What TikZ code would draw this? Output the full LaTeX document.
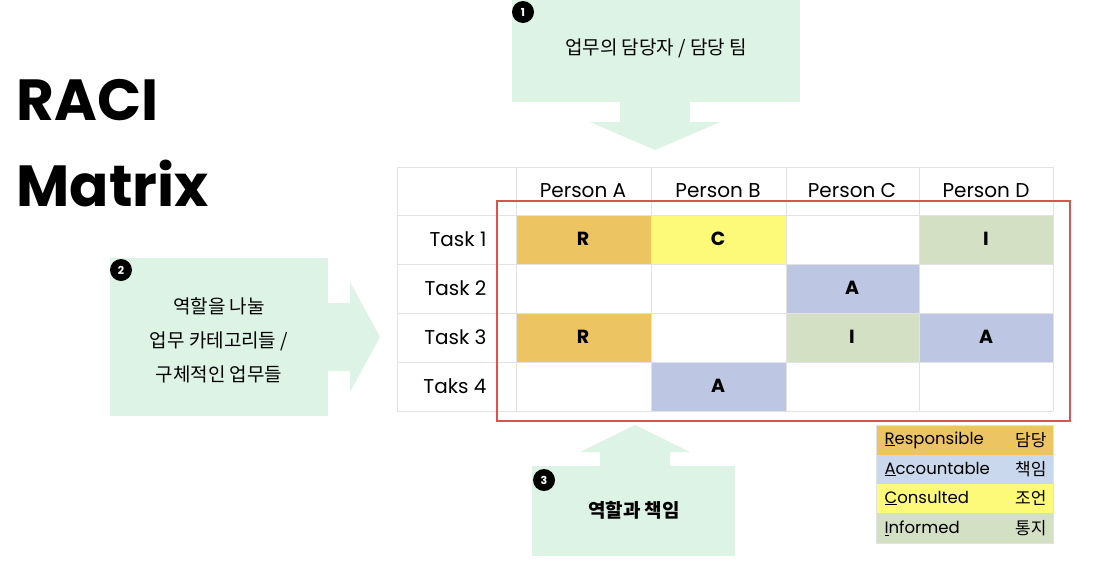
\documentclass[tikz,border=0pt]{standalone}
\usepackage{fontspec}
\setmainfont{Poppins}
\newfontfamily\kr{Noto Sans CJK KR}
\definecolor{cgreen}{HTML}{DDF3E6}
\definecolor{cR}{HTML}{EDC462}
\definecolor{cC}{HTML}{FDFA7A}
\definecolor{cA}{HTML}{BDC7E3}
\definecolor{cI}{HTML}{D3E0C4}
\definecolor{cAl}{HTML}{C9D8EC}
\definecolor{grid}{HTML}{E2E2E2}
\definecolor{redline}{HTML}{D9534F}
\begin{document}
\begin{tikzpicture}[x=1pt,y=-1pt,
 cell/.style={font=\bfseries\fontsize{19}{22}\selectfont},
 hdr/.style={font=\fontsize{20}{22}\selectfont},
 num/.style={circle,fill=black,text=white,inner sep=0pt,minimum size=22pt,font=\bfseries\fontsize{11}{12}\selectfont},
 ktext/.style={font=\kr\fontsize{19}{28}\selectfont,align=center},
 leg/.style={anchor=west,font=\fontsize{16.5}{18}\selectfont}]
\useasboundingbox (0,0) rectangle (1108,560);
\fill[white] (0,0) rectangle (1108,560);
% title
\node[anchor=west,font=\bfseries\fontsize{58}{66}\selectfont] (t1) at (13,100) {RACI};
\node[anchor=west,font=\bfseries\fontsize{58}{66}\selectfont] (t2) at (13,183) {Matrix};
% cell fills
\fill[cR] (516,215) rectangle (651,264);
\fill[cC] (651,215) rectangle (786,264);
\fill[cI] (919,215) rectangle (1053,264);
\fill[cA] (786,264) rectangle (919,313);
\fill[cR] (516,313) rectangle (651,362);
\fill[cI] (786,313) rectangle (919,362);
\fill[cA] (919,313) rectangle (1053,362);
\fill[cA] (651,362) rectangle (786,411);
% grid
\foreach \x in {397,516,651,786,919,1053} \draw[grid] (\x,167) -- (\x,411);
\foreach \y in {167,215,264,313,362,411} \draw[grid] (397,\y) -- (1053,\y);
% headers
\foreach \n/\x in {A/583,B/718,C/852,D/986} \node[hdr] (h\n) at (\x,191) {Person \n};
\foreach \t/\y [count=\i] in {Task 1/239,Task 2/288,Task 3/337,Taks 4/386} \node[hdr,anchor=east] (r\i) at (490,\y) {\t};
\node[cell] (c11) at (583,239) {R};
\node[cell] (c12) at (718,239) {C};
\node[cell] (c14) at (986,239) {I};
\node[cell] (c23) at (852,288) {A};
\node[cell] (c31) at (583,337) {R};
\node[cell] (c33) at (852,337) {I};
\node[cell] (c34) at (986,337) {A};
\node[cell] (c42) at (718,386) {A};
\draw[redline,line width=1.2pt] (497,201) rectangle (1070,421);
% callout 1
\fill[cgreen] (512,0) rectangle (800,102);
\fill[cgreen] (620,102) -- (690,102) -- (690,122) -- (720,122) -- (655,150) -- (590,122) -- (620,122) -- cycle;
\node[ktext] (k1) at (656,48) {업무의 담당자 / 담당 팀};
\node[num] (n1) at (523,12) {1};
% callout 2
\fill[cgreen] (110,258) rectangle (328,416);
\fill[cgreen] (328,303) -- (350,303) -- (350,282) -- (380,337) -- (350,392) -- (350,371) -- (328,371) -- cycle;
\node[ktext] (k2) at (219,340) {역할을 나눌\\[6pt]업무 카테고리들 /\\[6pt]구체적인 업무들};
\node[num] (n2) at (121,270) {2};
% callout 3
\fill[cgreen] (532,466) rectangle (735,556);
\fill[cgreen] (600,466) -- (600,452) -- (580,452) -- (635,425) -- (690,452) -- (670,452) -- (670,466) -- cycle;
\node[ktext,font=\kr\bfseries\fontsize{19}{22}\selectfont] (k3) at (634,510) {역할과 책임};
\node[num] (n3) at (544,480) {3};
% legend
\fill[cR] (876,425) rectangle (1053,455);
\fill[cAl] (876,455) rectangle (1053,484);
\fill[cC] (876,484) rectangle (1053,513);
\fill[cI] (876,513) rectangle (1053,543);
\draw[grid] (876,425) rectangle (1053,543);
\node[leg] (l1) at (881,440) {\underline{R}esponsible};
\node[leg] (l2) at (881,469) {\underline{A}ccountable};
\node[leg] (l3) at (881,498) {\underline{C}onsulted};
\node[leg] (l4) at (881,528) {\underline{I}nformed};
\node[leg,anchor=east,font=\kr\fontsize{17}{18}\selectfont] (m1) at (1050,440) {담당};
\node[leg,anchor=east,font=\kr\fontsize{17}{18}\selectfont] (m2) at (1050,469) {책임};
\node[leg,anchor=east,font=\kr\fontsize{17}{18}\selectfont] (m3) at (1050,498) {조언};
\node[leg,anchor=east,font=\kr\fontsize{17}{18}\selectfont] (m4) at (1050,528) {통지};
\end{tikzpicture}
\end{document}
